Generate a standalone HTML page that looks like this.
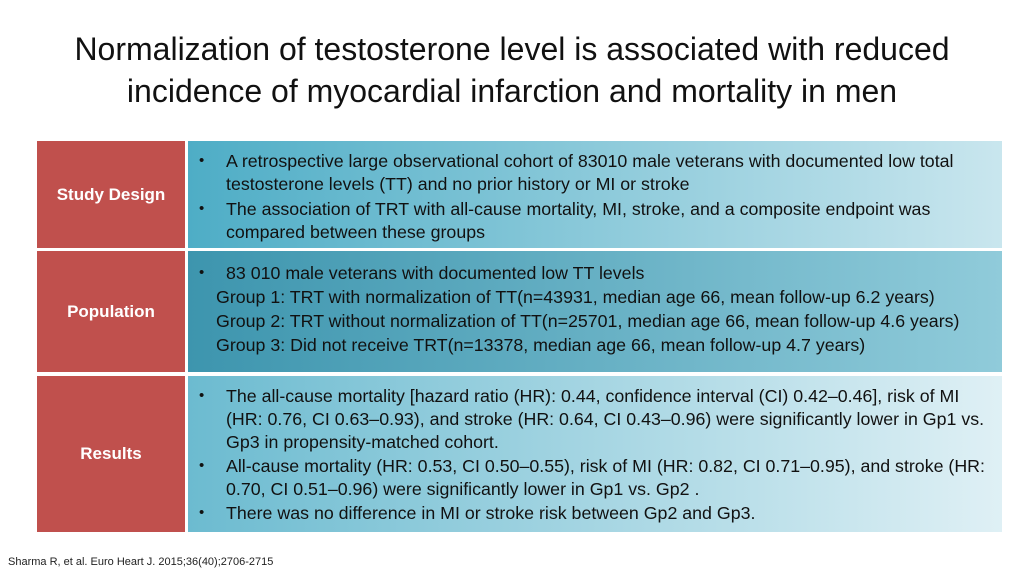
<!DOCTYPE html>
<html><head><meta charset="utf-8"><style>
body{margin:0;width:1024px;height:576px;background:#fff;position:relative;overflow:hidden;font-family:"Liberation Sans",sans-serif;color:#111}
.t{position:absolute;left:0;width:1024px;text-align:center;font-size:32px;white-space:nowrap}
.cell{position:absolute}
.lab{background:#c0504d;color:#fff;font-weight:bold;font-size:17px;display:flex;align-items:center;justify-content:center}
.ln{position:absolute;white-space:nowrap;font-size:17.8px;color:#111;line-height:22px}
.b{position:absolute;font-size:15px;line-height:22px}
</style></head><body>
<div class="t" style="top:31px">Normalization of testosterone level is associated with reduced</div>
<div class="t" style="top:73px">incidence of myocardial infarction and mortality in men</div>

<div class="cell lab" style="left:37px;top:141px;width:148px;height:107px">Study Design</div>
<div class="cell" style="left:188px;top:141px;width:814px;height:107px;background:linear-gradient(90deg,#4eadc6,#c9e6ee)">
<span class="b" style="left:11px;top:9px">•</span><span class="ln" style="left:38px;top:9px">A retrospective large observational cohort of 83010 male veterans with documented low total</span>
<span class="ln" style="left:38px;top:32px">testosterone levels (TT) and no prior history or MI or stroke</span>
<span class="b" style="left:11px;top:57px">•</span><span class="ln" style="left:38px;top:57px">The association of TRT with all-cause mortality, MI, stroke, and a composite endpoint was</span>
<span class="ln" style="left:38px;top:80px">compared between these groups</span>
</div>

<div class="cell lab" style="left:37px;top:251px;width:148px;height:121px">Population</div>
<div class="cell" style="left:188px;top:251px;width:814px;height:121px;background:linear-gradient(90deg,#3d95ae,#90cbda)">
<span class="b" style="left:11px;top:11px">•</span><span class="ln" style="left:38px;top:11px">83 010 male veterans with documented low TT levels</span>
<span class="ln" style="left:28px;top:35px">Group 1: TRT with normalization of TT(n=43931, median age 66, mean follow-up 6.2 years)</span>
<span class="ln" style="left:28px;top:59px">Group 2: TRT without normalization of TT(n=25701, median age 66, mean follow-up 4.6 years)</span>
<span class="ln" style="left:28px;top:83px">Group 3: Did not receive TRT(n=13378, median age 66, mean follow-up 4.7 years)</span>
</div>

<div class="cell lab" style="left:37px;top:376px;width:148px;height:156px">Results</div>
<div class="cell" style="left:188px;top:376px;width:814px;height:156px;background:linear-gradient(90deg,#6cbbd0,#dff0f5)">
<span class="b" style="left:11px;top:9px">•</span><span class="ln" style="left:38px;top:9px">The all-cause mortality [hazard ratio (HR): 0.44, confidence interval (CI) 0.42–0.46], risk of MI</span>
<span class="ln" style="left:38px;top:32px">(HR: 0.76, CI 0.63–0.93), and stroke (HR: 0.64, CI 0.43–0.96) were significantly lower in Gp1 vs.</span>
<span class="ln" style="left:38px;top:55px">Gp3 in propensity-matched cohort.</span>
<span class="b" style="left:11px;top:79px">•</span><span class="ln" style="left:38px;top:79px">All-cause mortality (HR: 0.53, CI 0.50–0.55), risk of MI (HR: 0.82, CI 0.71–0.95), and stroke (HR:</span>
<span class="ln" style="left:38px;top:102px">0.70, CI 0.51–0.96) were significantly lower in Gp1 vs. Gp2 .</span>
<span class="b" style="left:11px;top:126px">•</span><span class="ln" style="left:38px;top:126px">There was no difference in MI or stroke risk between Gp2 and Gp3.</span>
</div>

<div style="position:absolute;left:8px;top:556px;font-size:11px;color:#222;white-space:nowrap">Sharma R, et al. Euro Heart J. 2015;36(40);2706-2715</div>
</body></html>
